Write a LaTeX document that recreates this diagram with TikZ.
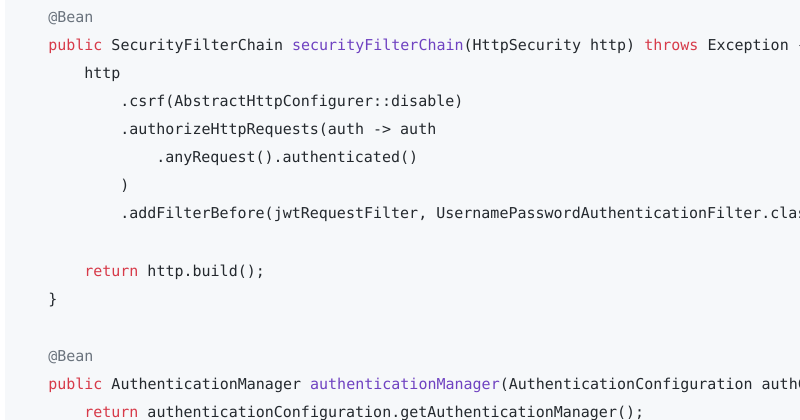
\documentclass[tikz,border=0pt]{standalone}
\usepackage{fontspec}
\setmonofont{DejaVu Sans Mono}
\definecolor{bg}{HTML}{F6F8FA}
\definecolor{cm}{HTML}{6A737D}
\definecolor{kw}{HTML}{D73A49}
\definecolor{fn}{HTML}{6F42C1}
\definecolor{tx}{HTML}{24292E}
\newcommand{\K}[1]{\textcolor{kw}{#1}}
\newcommand{\F}[1]{\textcolor{fn}{#1}}
\newcommand{\C}[1]{\textcolor{cm}{#1}}
\begin{document}
\begin{tikzpicture}[x=0.75pt,y=-0.75pt,
  code/.style={anchor=west,inner sep=0pt,font=\ttfamily\fontsize{11.25pt}{13pt}\selectfont,text=tx}]
\useasboundingbox (0,0) rectangle (800,420);
\clip (0,0) rectangle (800,420);
\fill[white] (0,0) rectangle (800,420);
\fill[bg] (5,0) rectangle (800,420);
\node[code] (l1) at (48,18) {\C{@Bean}};
\node[code] (l2) at (48,46) {\K{public} SecurityFilterChain \F{securityFilterChain}(HttpSecurity http) \K{throws} Exception \{};
\node[code] (l3) at (84,74) {http};
\node[code] (l4) at (120,102) {.csrf(AbstractHttpConfigurer::disable)};
\node[code] (l5) at (120,130) {.authorizeHttpRequests(auth -> auth};
\node[code] (l6) at (156,158) {.anyRequest().authenticated()};
\node[code] (l7) at (120,186) {)};
\node[code] (l8) at (120,214) {.addFilterBefore(jwtRequestFilter, UsernamePasswordAuthenticationFilter.class);};
\node[code] (l9) at (84,272) {\K{return} http.build();};
\node[code] (l10) at (48,300) {\}};
\node[code] (l11) at (48,357) {\C{@Bean}};
\node[code] (l12) at (48,385) {\K{public} AuthenticationManager \F{authenticationManager}(AuthenticationConfiguration authConfig)};
\node[code] (l13) at (84,413) {\K{return} authenticationConfiguration.getAuthenticationManager();};
\end{tikzpicture}
\end{document}
